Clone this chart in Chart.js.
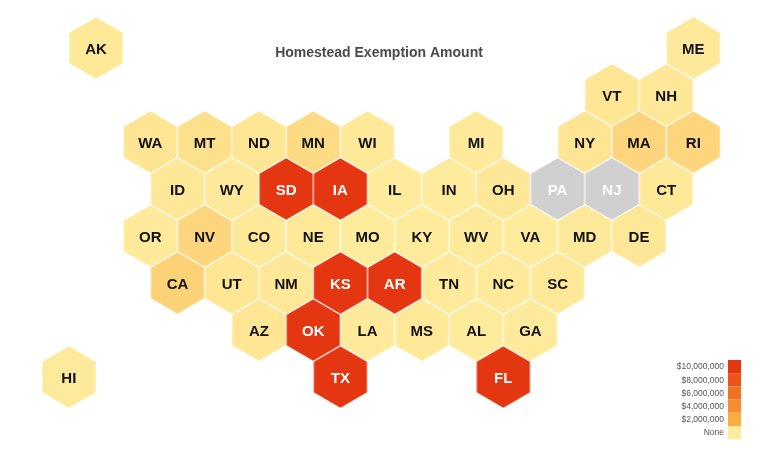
<!DOCTYPE html>
<html lang="en">
<head>
    <meta charset="UTF-8">
    <title>Homestead Exemption Amount</title>
    <script src="https://cdn.jsdelivr.net/npm/chart.js"></script>
    <style>
        html, body { margin: 0; padding: 0; background: #fff; }
        canvas { display: block; }
    </style>
</head>
<body>
    <canvas id="graph" width="768" height="457"></canvas>

    <script>
        const chartTitle = "Homestead Exemption Amount";

        const states = [
            "AK", "ME",
            "VT", "NH",
            "WA", "MT", "ND", "MN", "WI", "MI", "NY", "MA", "RI",
            "ID", "WY", "SD", "IA", "IL", "IN", "OH", "PA", "NJ", "CT",
            "OR", "NV", "CO", "NE", "MO", "KY", "WV", "VA", "MD", "DE",
            "CA", "UT", "NM", "KS", "AR", "TN", "NC", "SC",
            "AZ", "OK", "LA", "MS", "AL", "GA",
            "HI", "TX", "FL"
        ];
        // grid position of each state, in half-hexagon columns and hexagon rows
        const columns = [
            0, 22,
            19, 21,
            2, 4, 6, 8, 10, 14, 18, 20, 22,
            3, 5, 7, 9, 11, 13, 15, 17, 19, 21,
            2, 4, 6, 8, 10, 12, 14, 16, 18, 20,
            3, 5, 7, 9, 11, 13, 15, 17,
            6, 8, 10, 12, 14, 16,
            -1, 9, 15
        ];
        const rows = [
            0, 0,
            1, 1,
            2, 2, 2, 2, 2, 2, 2, 2, 2,
            3, 3, 3, 3, 3, 3, 3, 3, 3, 3,
            4, 4, 4, 4, 4, 4, 4, 4, 4, 4,
            5, 5, 5, 5, 5, 5, 5, 5,
            6, 6, 6, 6, 6, 6,
            7, 7, 7
        ];
        // null = no state exemption, 10,000,000 = top of the scale
        const amounts = [
            70000, 50000,
            150000, 120000,
            200000, 350000, 150000, 520000, 75000, 40000, 200000, 700000, 700000,
            100000, 50000, 10000000, 10000000, 15000, 15000, 130000, null, null, 75000,
            40000, 700000, 60000, 60000, 15000, 5000, 25000, 5000, 50000, 125000,
            800000, 150000, 120000, 10000000, 10000000, 35000, 35000, 60000,
            150000, 10000000, 35000, 75000, 15000, 20000,
            30000, 10000000, 10000000
        ];

        const legendLabels = ["$10,000,000", "$8,000,000", "$6,000,000", "$4,000,000", "$2,000,000", "None"];
        const legendColors = ["#e53612", "#ec5519", "#f17124", "#f58d30", "#f9ac40", "#feeb9c"];
        const noDataColor = "#d0d0d0";

        function hexToRgb(hex) {
            return [1, 3, 5].map(i => parseInt(hex.slice(i, i + 2), 16));
        }

        // colour of an amount, read along the legend ramp
        function colorFor(amount) {
            if (amount === null) return noDataColor;
            const t = Math.min(amount / 2000000, 5);
            const i = Math.min(Math.floor(t), 4);
            const from = hexToRgb(legendColors[5 - i]);
            const to = hexToRgb(legendColors[4 - i]);
            const c = from.map((v, k) => Math.round(v + (to[k] - v) * (t - i)));
            return `rgb(${c[0]}, ${c[1]}, ${c[2]})`;
        }

        // Chart.js has no hexagon point style, so make one canvas per colour
        const hexCache = {};
        function hexagon(color) {
            if (hexCache[color]) return hexCache[color];
            const c = document.createElement("canvas");
            c.width = 56;
            c.height = 64;
            const g = c.getContext("2d");
            g.fillStyle = color;
            g.beginPath();
            for (let i = 0; i < 6; i++) {
                const a = Math.PI / 3 * i + Math.PI / 6;
                g.lineTo(28 + 30.7 * Math.cos(a), 32 + 30.7 * Math.sin(a));
            }
            g.closePath();
            g.fill();
            hexCache[color] = c;
            return c;
        }

        const textPlugin = {
            id: "textPlugin",
            afterDatasetsDraw(chart) {
                const ctx = chart.ctx;
                const xs = chart.scales.x;
                const ys = chart.scales.y;
                ctx.save();
                ctx.textBaseline = "middle";

                // state labels
                ctx.textAlign = "center";
                ctx.font = "bold 15px 'Liberation Sans'";
                states.forEach((s, i) => {
                    const dark = amounts[i] !== null && amounts[i] < 5000000;
                    ctx.fillStyle = dark ? "#111" : "#fff";
                    ctx.fillText(s, xs.getPixelForValue(columns[i]), ys.getPixelForValue(rows[i]) + 1.5);
                });

                // title
                ctx.font = "bold 14px 'Liberation Sans'";
                ctx.fillStyle = "#4a4a4a";
                ctx.fillText(chartTitle, 379, 53);

                // legend
                ctx.textAlign = "right";
                ctx.font = "8.5px 'Liberation Sans'";
                legendLabels.forEach((label, i) => {
                    ctx.fillStyle = legendColors[i];
                    ctx.fillRect(728, 360 + i * 13.2, 13, 13.2);
                    ctx.fillStyle = "#555";
                    ctx.fillText(label, 724, 367 + i * 13.2);
                });
                ctx.restore();
            }
        };

        new Chart(document.getElementById("graph").getContext("2d"), {
            type: "scatter",
            data: {
                datasets: [{
                    label: chartTitle,
                    data: states.map((s, i) => ({ x: columns[i], y: rows[i] })),
                    pointStyle: c => hexagon(colorFor(amounts[c.dataIndex])),
                    pointRadius: 31
                }]
            },
            options: {
                responsive: false,
                animation: false,
                layout: { padding: 0, autoPadding: false },
                plugins: {
                    legend: { display: false },
                    tooltip: { enabled: false }
                },
                scales: {
                    x: { display: false, min: -3.536, max: 24.75 },
                    y: { display: false, reverse: true, min: -1.021, max: 8.702 }
                }
            },
            plugins: [textPlugin]
        });
    </script>
</body>
</html>
